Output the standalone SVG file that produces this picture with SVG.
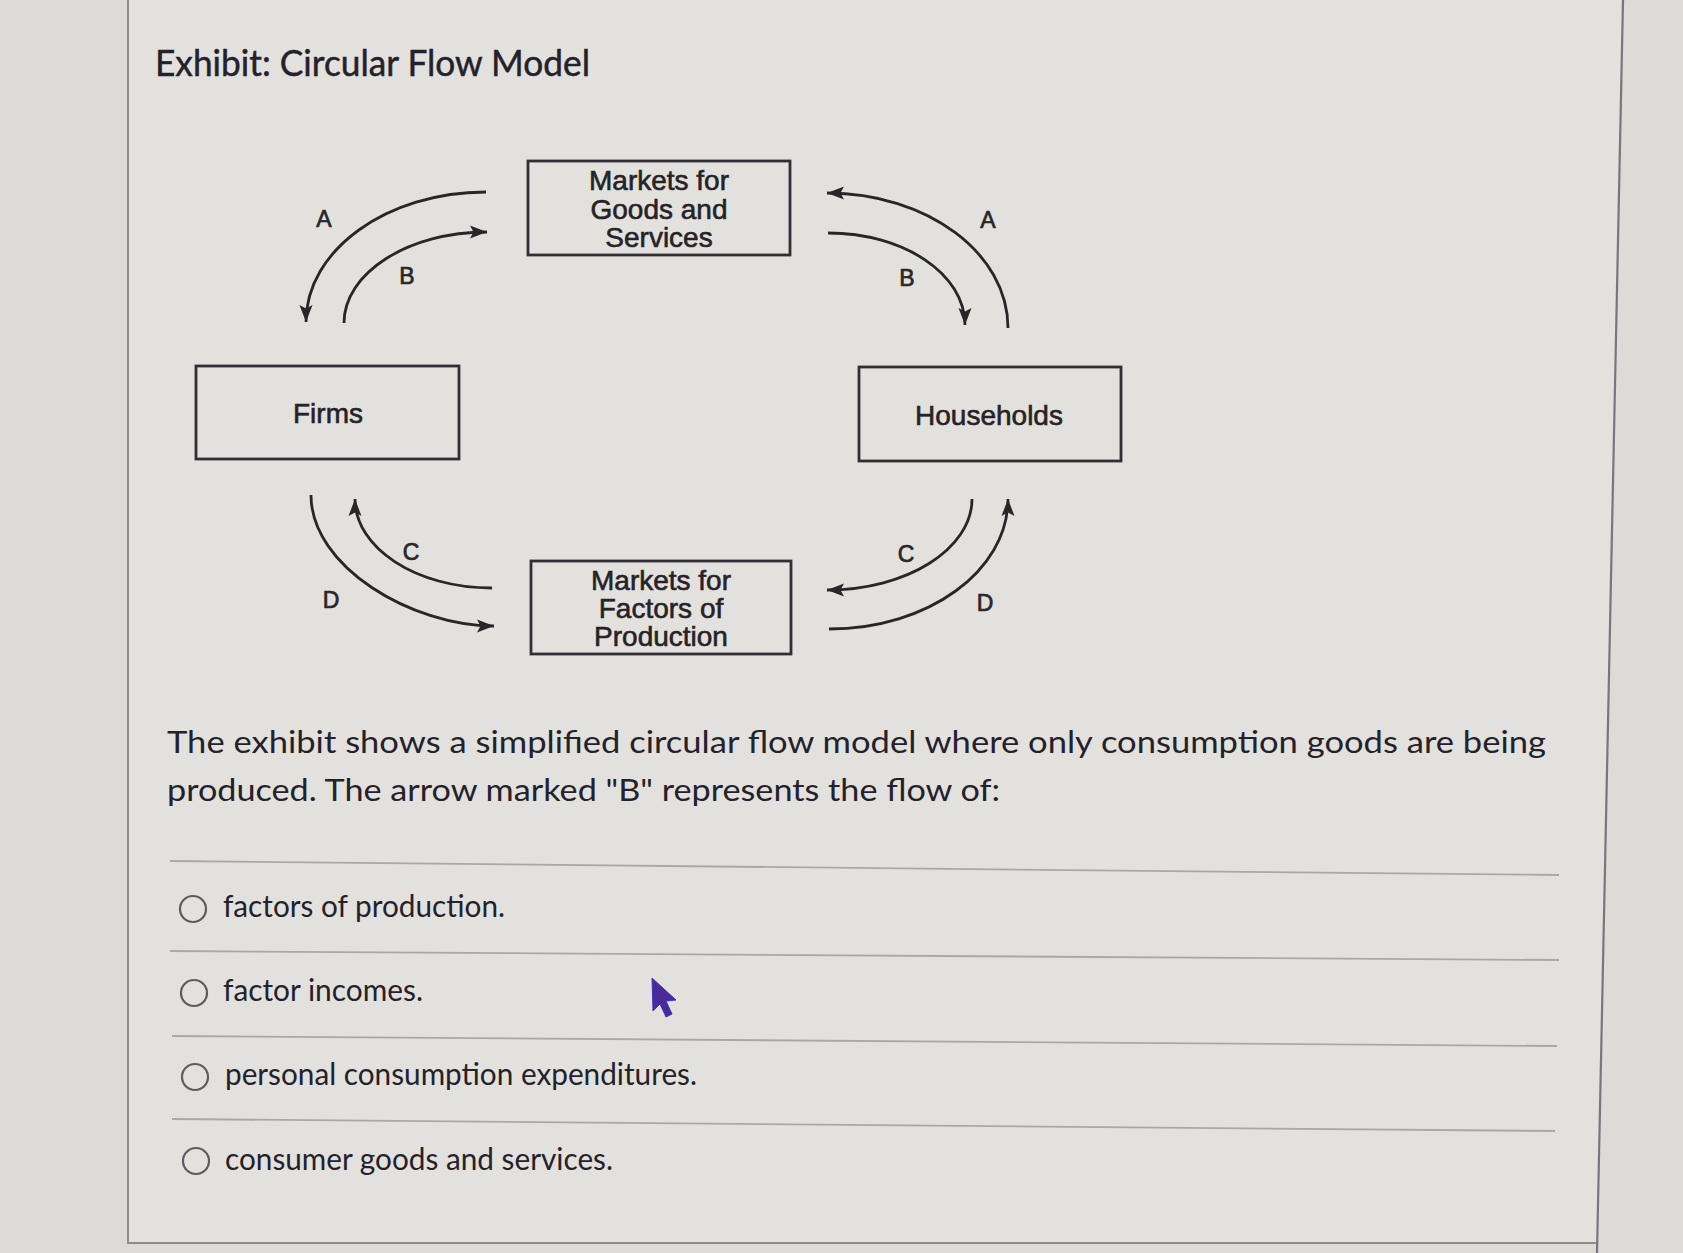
<svg xmlns="http://www.w3.org/2000/svg" width="1683" height="1253" viewBox="0 0 1683 1253">
  <style>
    .box { fill: #e2e1de; stroke: #352d35; stroke-width: 2.8; }
    .lbl { font-family: "Liberation Sans", Arial, sans-serif; font-size: 28px; fill: #262226; stroke: #262226; stroke-width: 0.6; text-anchor: middle; }
    .tag { font-family: "Liberation Sans", Arial, sans-serif; font-size: 23px; fill: #2a2628; stroke: #2a2628; stroke-width: 0.7; text-anchor: middle; }
    .flow { fill: none; stroke: #2a2529; stroke-width: 2.8; }
    .ui { font-family: Lato, "Open Sans", sans-serif; fill: #25212b; }
    .sep { stroke: #a9a8a6; stroke-width: 1.8; }
    .radio { fill: none; stroke: #5b5b60; stroke-width: 2.2; }
  </style>
  <defs>
    <marker id="arr" markerUnits="userSpaceOnUse" markerWidth="20" markerHeight="16" refX="17" refY="7" orient="auto">
      <path d="M0,0.5 L17,7 L0,13.5 L3.5,7 Z" fill="#2a2529"/>
    </marker>
  </defs>

  <!-- background -->
  <rect x="0" y="0" width="1683" height="1253" fill="#dcdbd8"/>
  <polygon points="128,0 1623,0 1597,1243 128,1243" fill="#e2e1de"/>
  <line x1="128" y1="0" x2="128" y2="1244" stroke="#8d8c8c" stroke-width="2"/>
  <line x1="128" y1="1243" x2="1597" y2="1243" stroke="#8d8c8c" stroke-width="2"/>
  <line x1="1623" y1="0" x2="1597" y2="1253" stroke="#77767f" stroke-width="2.2"/>

  <!-- title -->
  <text class="ui" x="155" y="76" font-size="37" stroke="#25212b" stroke-width="0.5" textLength="435" lengthAdjust="spacingAndGlyphs">Exhibit: Circular Flow Model</text>

  <!-- nodes -->
  <g id="goods-market">
    <rect class="box" x="528" y="161" width="262" height="94"/>
    <text class="lbl" x="659" y="190">Markets for</text>
    <text class="lbl" x="659" y="219">Goods and</text>
    <text class="lbl" x="659" y="247">Services</text>
  </g>
  <g id="firms">
    <rect class="box" x="196" y="366" width="263" height="93"/>
    <text class="lbl" x="328" y="423">Firms</text>
  </g>
  <g id="households">
    <rect class="box" x="859" y="367" width="262" height="94"/>
    <text class="lbl" x="989" y="425">Households</text>
  </g>
  <g id="factor-market">
    <rect class="box" x="531" y="561" width="260" height="93"/>
    <text class="lbl" x="661" y="590">Markets for</text>
    <text class="lbl" x="661" y="618">Factors of</text>
    <text class="lbl" x="661" y="646">Production</text>
  </g>

  <!-- connectors -->
  <g id="connectors">
    <path class="flow" d="M486,192 C387,192 306,250 306,322" marker-end="url(#arr)"/>
    <path class="flow" d="M344,323 C344,273 408,232 487,232" marker-end="url(#arr)"/>
    <path class="flow" d="M1008,328 C1008,253 927,193 827,193" marker-end="url(#arr)"/>
    <path class="flow" d="M828,233 C904,233 965,274 965,325" marker-end="url(#arr)"/>
    <path class="flow" d="M311,495 C311,567 412,626 494,626" marker-end="url(#arr)"/>
    <path class="flow" d="M492,588 C416,588 355,548 355,499" marker-end="url(#arr)"/>
    <path class="flow" d="M972,499 C972,549 907,590 827,590" marker-end="url(#arr)"/>
    <path class="flow" d="M829,629 C928,629 1008,571 1008,499" marker-end="url(#arr)"/>
    <text class="tag" x="324" y="227">A</text>
    <text class="tag" x="407" y="284">B</text>
    <text class="tag" x="988" y="228">A</text>
    <text class="tag" x="907" y="286">B</text>
    <text class="tag" x="411" y="560">C</text>
    <text class="tag" x="331" y="608">D</text>
    <text class="tag" x="906" y="562">C</text>
    <text class="tag" x="985" y="611">D</text>
  </g>

  <!-- question -->
  <text class="ui" x="167" y="753" font-size="31" textLength="1379" lengthAdjust="spacingAndGlyphs">The exhibit shows a simplified circular flow model where only consumption goods are being</text>
  <text class="ui" x="167" y="801" font-size="31" textLength="833" lengthAdjust="spacingAndGlyphs">produced. The arrow marked "B" represents the flow of:</text>

  <line class="sep" x1="170" y1="861" x2="1559" y2="875"/>
  <line class="sep" x1="170" y1="951" x2="1559" y2="960"/>
  <line class="sep" x1="172" y1="1036" x2="1557" y2="1046"/>
  <line class="sep" x1="172" y1="1119" x2="1555" y2="1131"/>

  <g id="option-1">
    <circle class="radio" cx="193" cy="909" r="13"/>
    <text class="ui" x="223" y="917" font-size="30" textLength="282" lengthAdjust="spacingAndGlyphs">factors of production.</text>
  </g>
  <g id="option-2">
    <circle class="radio" cx="194" cy="993" r="13"/>
    <text class="ui" x="223" y="1001" font-size="30" textLength="200" lengthAdjust="spacingAndGlyphs">factor incomes.</text>
  </g>
  <g id="option-3">
    <circle class="radio" cx="195" cy="1077" r="13"/>
    <text class="ui" x="225" y="1085" font-size="30" textLength="472" lengthAdjust="spacingAndGlyphs">personal consumption expenditures.</text>
  </g>
  <g id="option-4">
    <circle class="radio" cx="196" cy="1161" r="13"/>
    <text class="ui" x="225" y="1170" font-size="30" textLength="388" lengthAdjust="spacingAndGlyphs">consumer goods and services.</text>
  </g>

  <!-- mouse pointer -->
  <polygon points="652,978 653,1011 660,1004 666,1017 672,1014 666,1001 676,1000" fill="#4a2a96" stroke="#3a34c0" stroke-width="1"/>
</svg>
